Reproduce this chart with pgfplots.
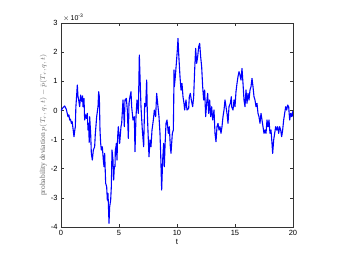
\documentclass[border=0pt]{standalone}
\usepackage{pgfplots}
\pgfplotsset{compat=1.18}
\usepackage{fontspec}
\setmainfont{Liberation Sans}
\newfontfamily\serifm{Liberation Serif}
\begin{document}
\begin{tikzpicture}[x=1pt,y=1pt]
\useasboundingbox (-61,-28) rectangle (285,227);
\begin{axis}[
  at={(0,0)}, anchor=south west,
  scale only axis, width=232pt, height=204pt,
  xmin=0, xmax=20, ymin=-4, ymax=3,
  xtick={0,5,10,15,20}, ytick={-4,-3,-2,-1,0,1,2,3},
  tick align=inside, major tick length=3pt,
  axis line style={black!80, line width=0.5pt},
  tick style={black!80, line width=0.5pt},
  xtick pos=both, ytick pos=both,
  /pgf/number format/assume math mode=true,
  ticklabel style={font=\fontsize{7.5}{8}\selectfont},
  xlabel={t}, xlabel style={font=\fontsize{8}{9}\selectfont, yshift=3pt},
  ylabel={\serifm probability deviation $p(T_r,q,t)-\bar{p}(T_r,q,t)$},
  ylabel style={font=\fontsize{7.5}{8}\selectfont, text=black!60, yshift=-3pt},
  clip=true,
]
\addplot[blue, line width=1.1pt, line join=round] coordinates {
(0.000,0.000)(0.029,0.014)(0.180,0.100)(0.316,0.151)(0.460,0.037)(0.603,-0.215)(0.680,-0.150)(0.747,-0.329)(0.820,-0.300)(0.891,-0.444)(0.960,-0.380)(1.035,-0.615)(1.121,-0.901)(1.180,-0.700)(1.236,-0.558)(1.280,0.100)(1.322,0.357)(1.408,0.872)(1.460,0.500)(1.523,0.357)(1.609,0.128)(1.695,0.529)(1.750,0.350)(1.810,0.300)(1.860,0.500)(1.897,0.128)(1.983,0.414)(2.040,-0.329)(2.120,-0.150)(2.184,-0.272)(2.270,-0.101)(2.328,-0.673)(2.385,-0.444)(2.430,-1.100)(2.471,-0.215)(2.557,-0.787)(2.615,-1.474)(2.701,-1.702)(2.787,-1.359)(2.902,-1.245)(2.960,-0.787)(3.020,-0.500)(3.075,-0.215)(3.190,0.128)(3.247,0.643)(3.305,0.471)(3.362,-0.673)(3.420,-1.130)(3.477,-1.359)(3.563,-1.245)(3.649,-1.702)(3.707,-1.931)(3.764,-1.474)(3.851,-2.503)(3.937,-2.618)(3.994,-3.075)(4.052,-2.846)(4.100,-3.400)(4.138,-3.876)(4.195,-3.304)(4.282,-3.075)(4.339,-2.618)(4.397,-1.359)(4.483,-1.702)(4.540,-2.389)(4.598,-1.931)(4.655,-1.931)(4.684,-1.359)(4.741,-1.245)(4.770,-1.130)(4.827,-1.702)(4.885,-0.901)(4.942,-0.558)(5.057,-1.130)(5.172,-0.558)(5.230,-0.444)(5.345,0.357)(5.400,0.000)(5.460,-0.558)(5.517,0.357)(5.632,0.414)(5.718,0.014)(5.804,-0.959)(5.862,0.243)(5.948,0.471)(6.034,0.643)(6.092,0.128)(6.207,-0.329)(6.322,-0.215)(6.379,-1.416)(6.465,-0.215)(6.552,0.357)(6.666,-0.101)(6.753,1.902)(6.839,0.815)(6.896,0.128)(7.011,-0.673)(7.126,-1.245)(7.213,0.243)(7.299,0.128)(7.385,1.044)(7.442,-0.101)(7.529,-1.016)(7.586,-1.588)(7.672,-1.016)(7.758,-1.245)(7.845,-0.673)(7.960,-0.329)(8.046,0.014)(8.161,-0.215)(8.247,0.586)(8.333,0.243)(8.448,-0.215)(8.534,-0.787)(8.592,-1.474)(8.678,-2.732)(8.764,-1.702)(8.851,-1.130)(8.908,-1.931)(8.965,-1.245)(9.052,-0.444)(9.138,-0.329)(9.253,-0.787)(9.339,-0.558)(9.425,-1.245)(9.483,-1.474)(9.598,-0.787)(9.684,-0.673)(9.720,0.357)(9.740,1.387)(9.770,0.815)(9.856,1.158)(9.943,1.616)(10.029,2.073)(10.086,2.474)(10.144,1.959)(10.259,1.158)(10.345,0.700)(10.431,0.929)(10.517,0.471)(10.604,0.243)(10.661,0.014)(10.776,0.357)(10.862,0.014)(11.006,0.071)(11.063,0.471)(11.149,0.586)(11.236,0.357)(11.351,0.128)(11.437,0.471)(11.523,1.387)(11.609,2.130)(11.695,1.616)(11.782,1.844)(11.868,2.188)(11.954,2.302)(12.040,1.844)(12.126,1.501)(12.213,0.815)(12.299,0.357)(12.385,0.700)(12.471,-0.215)(12.557,0.243)(12.644,0.586)(12.730,-0.101)(12.816,0.357)(12.902,-0.215)(12.989,0.128)(13.075,-0.329)(13.190,0.014)(13.276,-0.787)(13.362,-1.073)(13.448,-0.558)(13.535,-0.444)(13.621,-0.673)(13.707,-0.558)(13.793,-0.787)(13.879,-0.558)(13.966,-0.215)(14.052,0.014)(14.138,0.357)(14.224,0.128)(14.310,-0.101)(14.397,-0.444)(14.483,0.128)(14.598,0.243)(14.684,0.471)(14.713,0.128)(14.828,0.014)(14.914,0.357)(15.000,0.128)(15.086,0.643)(15.173,0.929)(15.259,1.158)(15.345,1.330)(15.431,1.215)(15.517,1.044)(15.604,1.444)(15.690,0.929)(15.776,0.357)(15.862,0.128)(15.948,0.700)(16.035,0.243)(16.121,0.586)(16.207,0.357)(16.293,0.700)(16.380,0.815)(16.466,1.101)(16.552,0.815)(16.638,0.471)(16.724,0.357)(16.811,0.128)(16.897,0.243)(16.983,-0.101)(17.069,-0.215)(17.155,-0.444)(17.242,-0.101)(17.328,-0.329)(17.414,-0.558)(17.500,-0.787)(17.586,-0.673)(17.673,-0.787)(17.759,-0.329)(17.845,-0.558)(17.931,-0.329)(18.017,-0.787)(18.104,-0.673)(18.190,-1.130)(18.247,-1.474)(18.334,-1.016)(18.420,-0.787)(18.506,-0.558)(18.592,-0.673)(18.678,-0.558)(18.765,-0.787)(18.851,-0.558)(18.937,-0.673)(19.023,-0.901)(19.109,-0.673)(19.196,-0.329)(19.282,-0.101)(19.368,0.128)(19.454,0.014)(19.540,0.185)(19.627,0.128)(19.713,-0.329)(19.799,-0.101)(19.885,-0.215)(19.971,-0.043)(20.000,-0.200)
};
\end{axis}
\node[anchor=south west, inner sep=0pt, font=\fontsize{7}{8}\selectfont] at (2,205) {$\times$\,10\raisebox{3pt}{\fontsize{5}{6}\selectfont -3}};
\end{tikzpicture}
\end{document}
